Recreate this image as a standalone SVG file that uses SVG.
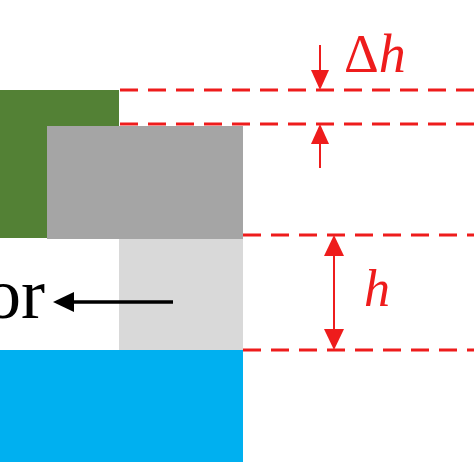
<svg xmlns="http://www.w3.org/2000/svg" width="474" height="474" viewBox="0 0 474 474">
<defs>
<style>
.dash{stroke:#ee1c1c;stroke-width:3;stroke-dasharray:18 10;fill:none}
.red{stroke:#ee1c1c;stroke-width:2;fill:none}
.redfill{fill:#ee1c1c}
.lbl{font-family:"Liberation Serif","Times New Roman",serif;fill:#ee1c1c}
</style>
</defs>
<rect width="474" height="474" fill="#fff"/>
<g id="green"><rect x="0" y="90" width="119" height="148" fill="#538135"/></g>
<g id="darkgray"><rect x="47" y="126" width="196" height="113" fill="#a5a5a5"/></g>
<g id="lightgray"><rect x="119" y="239" width="124" height="111" fill="#d9d9d9"/></g>
<g id="blue"><rect x="0" y="350" width="243" height="112" fill="#00b0f0"/></g>
<g id="label-or"><text x="45" y="318" text-anchor="end" font-family="Liberation Serif,Times New Roman,serif" font-size="72" fill="#000">or</text></g>
<g id="connectors">
<line class="dash" x1="120" y1="90" x2="474" y2="90"/>
<line class="dash" x1="120" y1="124" x2="474" y2="124"/>
<line class="dash" x1="243" y1="235" x2="474" y2="235"/>
<line class="dash" x1="243" y1="350" x2="474" y2="350"/>
<line class="red" x1="320" y1="45" x2="320" y2="72"/>
<polygon class="redfill" points="311,70 329,70 320,90"/>
<line class="red" x1="320" y1="142" x2="320" y2="168"/>
<polygon class="redfill" points="311,144 329,144 320,124"/>
<line class="red" x1="334" y1="250" x2="334" y2="334"/>
<polygon class="redfill" points="324,256 344,256 334,235"/>
<polygon class="redfill" points="324,329 344,329 334,350"/>
<line x1="70" y1="302" x2="173" y2="302" stroke="#000" stroke-width="3.5"/>
<polygon points="53,302 74,292 74,312" fill="#000"/>
</g>
<g id="label-dh"><text class="lbl" x="344" y="72" font-size="54">Δ<tspan font-style="italic">h</tspan></text></g>
<g id="label-h"><text class="lbl" x="364" y="306" font-size="52" font-style="italic">h</text></g>
</svg>
